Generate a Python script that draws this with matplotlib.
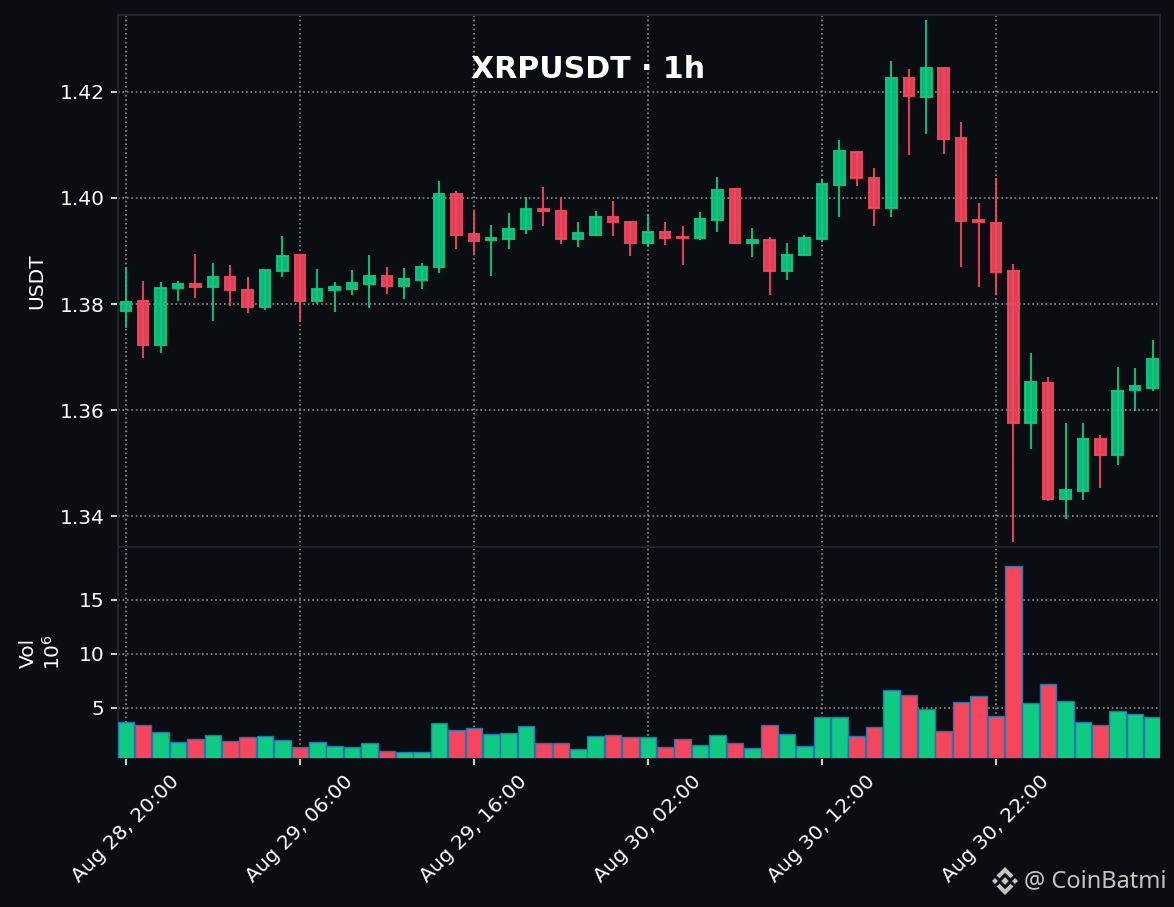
import matplotlib
matplotlib.use('Agg')
import matplotlib.pyplot as plt
from matplotlib.patches import Polygon

# hourly candles, values
opens = [1.3787, 1.3806, 1.3723, 1.3830, 1.3838, 1.3832, 1.3851, 1.3826, 1.3794, 1.3862,
         1.3892, 1.3805, 1.3826, 1.3829, 1.3837, 1.3853, 1.3834, 1.3845, 1.3869, 1.4008,
         1.3932, 1.3920, 1.3922, 1.3941, 1.3980, 1.3975, 1.3922, 1.3931, 1.3964, 1.3955,
         1.3916, 1.3936, 1.3927, 1.3924, 1.3959, 1.4017, 1.3916, 1.3921, 1.3863, 1.3892,
         1.3922, 1.4025, 1.4087, 1.4038, 1.3982, 1.4226, 1.4190, 1.4245, 1.4113, 1.3958,
         1.3953, 1.3862, 1.3575, 1.3651, 1.3433, 1.3448, 1.3545, 1.3515, 1.3638, 1.3642]
closes = [1.3804, 1.3723, 1.3830, 1.3838, 1.3832, 1.3851, 1.3826, 1.3794, 1.3864, 1.3891,
          1.3806, 1.3828, 1.3832, 1.3840, 1.3853, 1.3834, 1.3847, 1.3870, 1.4008, 1.3931,
          1.3918, 1.3925, 1.3942, 1.3979, 1.3975, 1.3922, 1.3934, 1.3964, 1.3954, 1.3916,
          1.3936, 1.3924, 1.3925, 1.3960, 1.4015, 1.3916, 1.3921, 1.3863, 1.3892, 1.3925,
          1.4026, 1.4089, 1.4037, 1.3982, 1.4226, 1.4192, 1.4245, 1.4112, 1.3956, 1.3955,
          1.3861, 1.3575, 1.3653, 1.3433, 1.3449, 1.3545, 1.3515, 1.3636, 1.3645, 1.3696]
highs = [1.3870, 1.3843, 1.3842, 1.3843, 1.3894, 1.3877, 1.3874, 1.3851, 1.3865, 1.3928,
         1.3894, 1.3866, 1.3842, 1.3864, 1.3892, 1.3870, 1.3868, 1.3877, 1.4032, 1.4013,
         1.3977, 1.3949, 1.3972, 1.4002, 1.4021, 1.4002, 1.3955, 1.3975, 1.3994, 1.3956,
         1.3968, 1.3955, 1.3947, 1.3974, 1.4040, 1.4019, 1.3943, 1.3926, 1.3915, 1.3930,
         1.4036, 1.4109, 1.4088, 1.4057, 1.4258, 1.4243, 1.4336, 1.4247, 1.4143, 1.3991,
         1.4038, 1.3875, 1.3708, 1.3662, 1.3575, 1.3575, 1.3553, 1.3681, 1.3679, 1.3732]
lows = [1.3755, 1.3698, 1.3708, 1.3806, 1.3811, 1.3768, 1.3796, 1.3783, 1.3789, 1.3851,
        1.3766, 1.3800, 1.3785, 1.3817, 1.3792, 1.3819, 1.3809, 1.3828, 1.3858, 1.3904,
        1.3894, 1.3853, 1.3904, 1.3932, 1.3947, 1.3913, 1.3908, 1.3928, 1.3928, 1.3891,
        1.3908, 1.3911, 1.3874, 1.3921, 1.3936, 1.3913, 1.3889, 1.3817, 1.3845, 1.3891,
        1.3917, 1.3964, 1.4023, 1.3947, 1.3964, 1.4081, 1.4121, 1.4083, 1.3870, 1.3832,
        1.3817, 1.3351, 1.3526, 1.3428, 1.3394, 1.3430, 1.3453, 1.3496, 1.3598, 1.3636]
# volume in millions
volumes = [3.67, 3.40, 2.75, 1.82, 2.10, 2.47, 1.91, 2.28, 2.38, 2.01,
           1.36, 1.82, 1.45, 1.36, 1.73, 0.99, 0.89, 0.89, 3.58, 2.93,
           3.12, 2.56, 2.65, 3.30, 1.73, 1.73, 1.17, 2.38, 2.47, 2.28,
           2.28, 1.36, 2.10, 1.54, 2.47, 1.73, 1.27, 3.40, 2.56, 1.45,
           4.14, 4.14, 2.38, 3.21, 6.64, 6.17, 4.88, 2.84, 5.52, 6.08,
           4.23, 18.15, 5.43, 7.19, 5.62, 3.67, 3.40, 4.69, 4.41, 4.14]
tick_pos = [0, 10, 20, 30, 40, 50]
tick_labels = ['Aug 28, 20:00', 'Aug 29, 06:00', 'Aug 29, 16:00',
               'Aug 30, 02:00', 'Aug 30, 12:00', 'Aug 30, 22:00']
price_ticks = [1.34, 1.36, 1.38, 1.40, 1.42]
vol_ticks = [5, 10, 15]

W, H = 1174, 907
BG = '#0a0d11'
UP = '#0ecb81'
DOWN = '#f6465d'
SPINE = '#1e2329'
GRID = '#8c8c8c'


def fx(x):
  return x / W


def fy(y):
  return 1 - y / H


fig = plt.figure(figsize=(W / 100, H / 100), dpi=100, facecolor=BG)
ax = fig.add_axes([fx(118), fy(547), fx(1160) - fx(118), fy(15) - fy(547)], facecolor=BG)
ax_vol = fig.add_axes([fx(118), fy(758), fx(1160) - fx(118), fy(547) - fy(758)],
                      facecolor=BG, sharex=ax)

x = list(range(len(opens)))
colors = [UP if c >= o else DOWN for o, c in zip(opens, closes)]

# candles
ax.vlines(x, lows, highs, colors=colors, linewidth=1.5, alpha=0.9, zorder=3)
ax.bar(x, [abs(c - o) for o, c in zip(opens, closes)],
       bottom=[min(o, c) for o, c in zip(opens, closes)],
       width=0.6, color=colors, edgecolor=colors, linewidth=1.5, alpha=0.9, zorder=3)
ax.set_ylim(1.3342, 1.4345)
ax.set_yticks(price_ticks)
ax.set_yticklabels(['%.2f' % t for t in price_ticks])
ax.set_ylabel('USDT', color='white', fontsize=14.5, labelpad=9.5)

# volume
ax_vol.bar(x, volumes, width=0.95, color=colors, edgecolor='#1f77b4', linewidth=1.0, zorder=3)
ax_vol.set_ylim(0.37, 19.9)
ax_vol.set_yticks(vol_ticks)
ax_vol.set_ylabel('Vol\n$10^{6}$', color='white', fontsize=14.5, labelpad=11)

ax.set_xlim(-0.45, 59.43)
ax_vol.set_xticks(tick_pos)
ax_vol.set_xticklabels(tick_labels, rotation=45, ha='center')
ax.tick_params(axis='x', which='both', bottom=False, labelbottom=False)

for a in (ax, ax_vol):
  a.grid(True, color=GRID, linestyle=':', linewidth=1.2, zorder=1)
  a.set_axisbelow(True)
  a.tick_params(axis='both', colors='white', labelsize=14.5, length=5, width=1.5, pad=4.7)
  a.tick_params(axis='both', color='#cccccc')
  for spine in a.spines.values():
    spine.set_color(SPINE)
    spine.set_linewidth(1.5)

fig.text(fx(588), fy(69), 'XRPUSDT · 1h', color='white', fontsize=21.6,
         fontweight='bold', ha='center', va='center')

# watermark, logo built from small polygons
WM = '#c4c4c4'
cx, cy = 1005, 881
logo = [
  [(0, -3.8), (3.8, 0), (0, 3.8), (-3.8, 0)],
  [(-10, -3), (-7, 0), (-10, 3), (-13, 0)],
  [(10, -3), (13, 0), (10, 3), (7, 0)],
  [(0, -14), (8.5, -5.5), (5.5, -2.8), (0, -8.2), (-5.5, -2.8), (-8.5, -5.5)],
  [(0, 14), (8.5, 5.5), (5.5, 2.8), (0, 8.2), (-5.5, 2.8), (-8.5, 5.5)],
]
for pts in logo:
  fig.add_artist(Polygon([(fx(cx + px), fy(cy + py)) for px, py in pts], closed=True,
                         transform=fig.transFigure, facecolor=WM, edgecolor='none'))
fig.text(fx(1024), fy(881), '@ CoinBatmi', color=WM, fontsize=17,
         family='Noto Sans', ha='left', va='center')

fig.savefig('out.png', dpi=100, facecolor=BG)
